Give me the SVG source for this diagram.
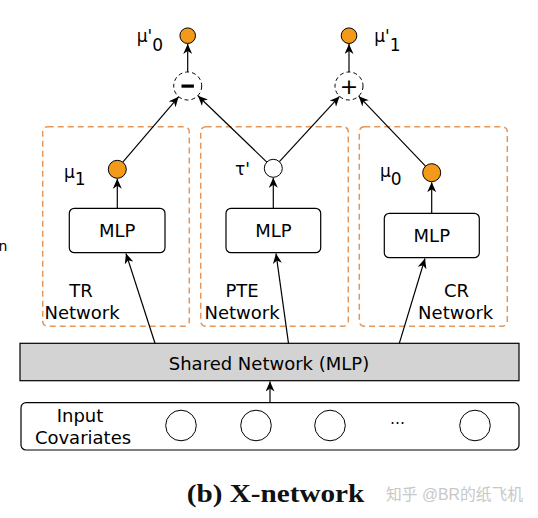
<svg xmlns="http://www.w3.org/2000/svg" width="538" height="518" viewBox="0 0 538 518">
<defs>
<marker id="ah" markerWidth="11" markerHeight="9" refX="10" refY="4.5" orient="auto" markerUnits="userSpaceOnUse">
<path d="M0,0 L10,4.5 L0,9 L3,4.5 Z" fill="#000"/>
</marker>
</defs>
<style>
.grp{fill:none;stroke:#E5975A;stroke-width:1.5;stroke-dasharray:6,4}
.box{fill:#fff;stroke:#000;stroke-width:1.2}
.org{fill:#F49A1A;stroke:#000;stroke-width:1}
.wht{fill:#fff;stroke:#000;stroke-width:1}
.op{fill:#fff;stroke:#000;stroke-width:1;stroke-dasharray:4,3}
.ln{fill:none;stroke:#000;stroke-width:1.2;marker-end:url(#ah)}
.dv{font-family:"DejaVu Sans",sans-serif;font-size:17px;fill:#000}
.lb{font-family:"DejaVu Sans",sans-serif;font-size:18px;fill:#000;text-anchor:middle}
.mlp{font-family:"DejaVu Sans",sans-serif;font-size:18px;fill:#000;text-anchor:middle}
</style>
<rect width="538" height="518" fill="#fff"/>
<text x="-1.5" y="250.5" class="dv" style="font-size:14px">n</text>

<g id="tr-network">
<rect x="42.7" y="126.7" width="146.6" height="199.5" rx="5" class="grp"/>
<text x="81" y="297" class="lb">TR</text>
<text x="82" y="319" class="lb">Network</text>
</g>
<g id="pte-network">
<rect x="200.7" y="126.7" width="147.6" height="199.5" rx="5" class="grp"/>
<text x="242" y="297" class="lb">PTE</text>
<text x="242" y="319" class="lb">Network</text>
</g>
<g id="cr-network">
<rect x="359.3" y="126.7" width="148" height="199.5" rx="5" class="grp"/>
<text x="456.5" y="297" class="lb">CR</text>
<text x="455.7" y="319" class="lb">Network</text>
</g>

<g id="mlp-tr">
<rect x="69.3" y="208.3" width="95.7" height="44.4" rx="5" class="box"/>
<text x="117.2" y="236.7" class="mlp">MLP</text>
</g>
<g id="mlp-pte">
<rect x="226" y="208.3" width="94.7" height="44.4" rx="5" class="box"/>
<text x="273.4" y="236.7" class="mlp">MLP</text>
</g>
<g id="mlp-cr">
<rect x="384.3" y="213.3" width="95" height="44.4" rx="5" class="box"/>
<text x="431.8" y="241.7" class="mlp">MLP</text>
</g>

<g id="mu1">
<circle cx="117.3" cy="169.3" r="9" class="org"/>
<text x="64" y="177.5" class="dv">μ<tspan dy="7.5">1</tspan></text>
</g>
<g id="tau">
<circle cx="273.3" cy="168.3" r="9" class="wht"/>
<text x="235" y="175" class="dv">τ'</text>
</g>
<g id="mu0">
<circle cx="431.7" cy="172.7" r="9" class="org"/>
<text x="380" y="176.5" class="dv">μ<tspan dy="8.5">0</tspan></text>
</g>

<g id="minus">
<circle cx="187.7" cy="86" r="14" class="op"/>
<rect x="181.5" y="84.5" width="12.4" height="3.2" fill="#000"/>
</g>
<g id="plus">
<circle cx="349" cy="86" r="14" class="op"/>
<text x="349" y="93.5" class="dv" style="font-size:22px;text-anchor:middle">+</text>
</g>

<g id="mu0-prime">
<circle cx="187.7" cy="35.7" r="7.8" class="org"/>
<text x="136.7" y="42" class="dv">μ'<tspan dy="8.5">0</tspan></text>
</g>
<g id="mu1-prime">
<circle cx="349" cy="35.7" r="7.8" class="org"/>
<text x="374.3" y="42" class="dv">μ'<tspan dy="8.5">1</tspan></text>
</g>

<g id="shared-network">
<rect x="20" y="343.3" width="499" height="37.4" fill="#D3D3D3" stroke="#000" stroke-width="1.2"/>
<text x="269" y="369.5" class="lb">Shared Network (MLP)</text>
</g>

<g id="input-covariates">
<rect x="21" y="402.7" width="498" height="47.3" rx="5" class="box"/>
<text x="80" y="421.7" class="lb">Input</text>
<text x="83" y="444" class="lb">Covariates</text>
<circle cx="181" cy="425.5" r="15.3" class="wht"/>
<circle cx="256" cy="425.5" r="15.3" class="wht"/>
<circle cx="330" cy="425.5" r="15.3" class="wht"/>
<text x="397.5" y="424" class="dv" style="font-size:15px;text-anchor:middle">…</text>
<circle cx="475" cy="425.5" r="15.3" class="wht"/>
</g>

<g id="connectors">
<line x1="270" y1="402.7" x2="270" y2="381.5" class="ln"/>
<line x1="155" y1="343.3" x2="126" y2="253.5" class="ln"/>
<line x1="288.5" y1="343.3" x2="276" y2="253.5" class="ln"/>
<line x1="399.3" y1="343.3" x2="425" y2="258.5" class="ln"/>
<line x1="117.3" y1="208.3" x2="117.3" y2="178.8" class="ln"/>
<line x1="273.3" y1="208.3" x2="273.3" y2="177.8" class="ln"/>
<line x1="431.7" y1="213.3" x2="431.7" y2="182.2" class="ln"/>
<line x1="122.8" y1="162.1" x2="178.6" y2="96.8" class="ln"/>
<line x1="266.8" y1="162.1" x2="197.9" y2="95.8" class="ln"/>
<line x1="279.4" y1="161.7" x2="339.5" y2="96.4" class="ln"/>
<line x1="425.5" y1="166.2" x2="358.7" y2="96.2" class="ln"/>
<line x1="187.7" y1="72" x2="187.7" y2="44" class="ln"/>
<line x1="349" y1="72" x2="349" y2="44" class="ln"/>
</g>

<text x="186.7" y="502" textLength="177.6" lengthAdjust="spacingAndGlyphs" style="font-family:'Liberation Serif',serif;font-weight:bold;font-size:26px;fill:#111">(b) X-network</text>
<text x="386" y="500" textLength="137" lengthAdjust="spacingAndGlyphs" style="font-family:'Liberation Sans','Noto Sans CJK SC',sans-serif;font-size:16px;fill:#C8C8C8">知乎 @BR的纸飞机</text>
</svg>
